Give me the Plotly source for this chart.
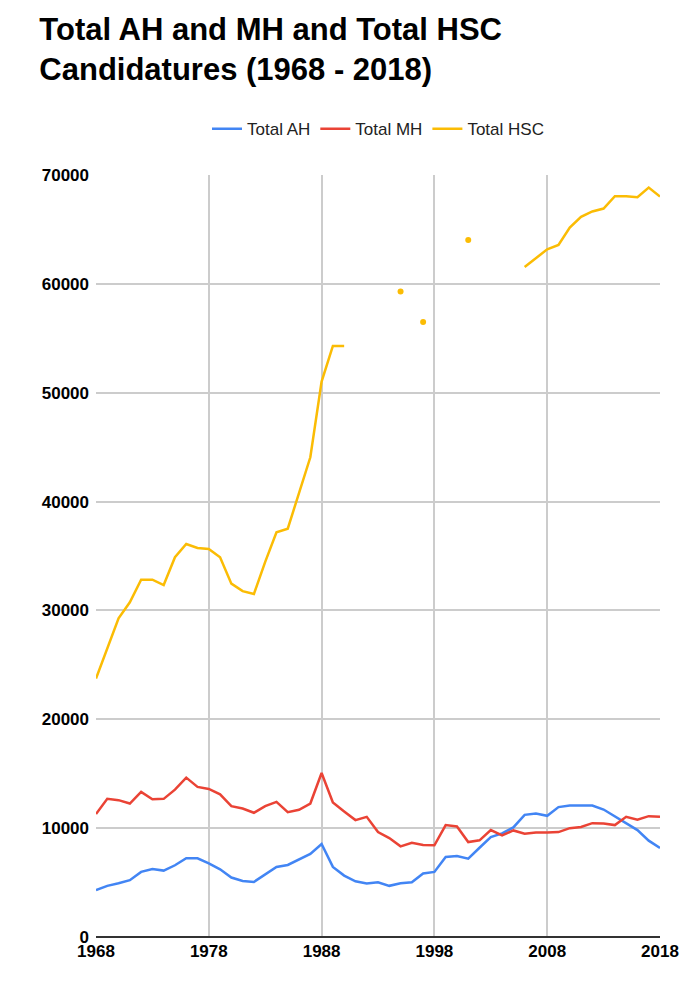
import plotly.graph_objects as go

years = list(range(1968, 2019))

total_ah = [4300, 4700, 4940, 5220, 5980, 6250, 6100, 6590, 7230, 7230,
            6770, 6220, 5460, 5150, 5060, 5730, 6440, 6620, 7140, 7630,
            8540, 6440, 5640, 5120, 4910, 5030, 4700, 4940, 5030, 5830,
            5980, 7350, 7440, 7200, 8200, 9180, 9520, 10070, 11220, 11350,
            11130, 11930, 12080, 12110, 12080, 11710, 11100, 10490, 9820, 8850,
            8170]

total_mh = [11300, 12700, 12570, 12260, 13330, 12660, 12690, 13540, 14640, 13790,
            13600, 13110, 12020, 11800, 11410, 12020, 12410, 11470, 11680, 12260,
            15070, 12350, 11530, 10740, 11040, 9640, 9090, 8330, 8660, 8450,
            8420, 10280, 10160, 8720, 8880, 9820, 9330, 9790, 9490, 9610,
            9610, 9640, 10000, 10100, 10460, 10430, 10280, 11040, 10770, 11100,
            11040]

N = None
total_hsc = [23740, 26430, 29280, 30750, 32820, 32820, 32330, 34890, 36100, 35740,
             35640, 34890, 32460, 31770, 31510, 34460, 37180, 37510, 40850, 44070,
             51020, 54300, 54300, N, N, N, N, 59300, N, 56500,
             N, N, N, 64020, N, N, N, N, 61550, 62320,
             63170, 63570, 65180, 66160, 66650, 66920, 68050, 68050, 67960, 68840,
             68020]

# isolated points (neighbours missing) get a marker, like the original chart
hsc_dots_x = [y for i, y in enumerate(years)
              if total_hsc[i] is not None
              and (i == 0 or total_hsc[i - 1] is None)
              and (i == len(years) - 1 or total_hsc[i + 1] is None)]
hsc_dots_y = [total_hsc[years.index(y)] for y in hsc_dots_x]

fig = go.Figure()
fig.add_trace(go.Scatter(x=years, y=total_ah, mode="lines", name="Total AH",
                         line=dict(color="#4285F4", width=2.5)))
fig.add_trace(go.Scatter(x=years, y=total_mh, mode="lines", name="Total MH",
                         line=dict(color="#EA4335", width=2.5)))
fig.add_trace(go.Scatter(x=years, y=total_hsc, mode="lines", name="Total HSC",
                         line=dict(color="#FBBC04", width=2.5)))
fig.add_trace(go.Scatter(x=hsc_dots_x, y=hsc_dots_y, mode="markers", showlegend=False,
                         marker=dict(color="#FBBC04", size=6)))

tick_font = dict(size=17, weight="bold", color="#000")

fig.update_layout(
    width=696, height=1000,
    paper_bgcolor="white", plot_bgcolor="white",
    font=dict(family="Liberation Sans, Arial", color="#000"),
    title=dict(text="<b>Total AH and MH and Total HSC<br>Candidatures (1968 - 2018)</b>",
               x=0.045, xanchor="left", y=0.968, yanchor="top",
               font=dict(size=31, color="#000")),
    legend=dict(orientation="h", x=0.5, xanchor="center", y=1.06, yanchor="middle",
                font=dict(size=17, color="#222")),
    margin=dict(l=88, r=44, t=167, b=71),
    xaxis=dict(range=[1968, 2018], tickvals=[1968, 1978, 1988, 1998, 2008, 2018],
               showgrid=True, gridcolor="#cccccc", gridwidth=1.5, zeroline=False,
               ticks="", tickfont=tick_font, ticklabelstandoff=2, showline=False),
    yaxis=dict(range=[0, 70000], dtick=10000, showgrid=True, gridcolor="#cccccc",
               gridwidth=1.5, zeroline=True, zerolinecolor="#333", zerolinewidth=2,
               ticks="", tickfont=tick_font, ticklabelstandoff=6, tickformat="d"),
)

fig.write_html("out.html")
